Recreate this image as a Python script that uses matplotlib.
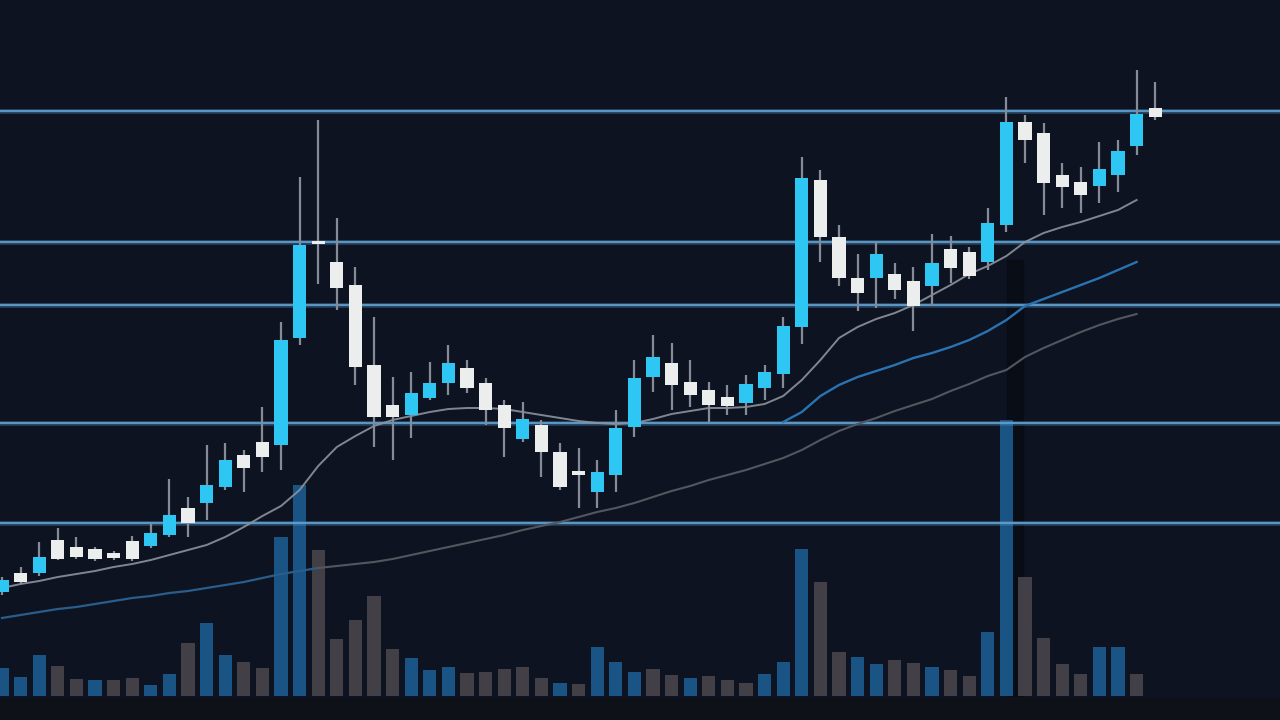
import numpy as np
import matplotlib
matplotlib.use("Agg")
import matplotlib.pyplot as plt

# ---- data (price units) ----
opens = [128,147,147,180,173,171,167,179,174,185,212,217,233,265,278,275,382,479,458,435,
         355,315,305,322,337,352,337,315,281,295,268,249,228,245,293,343,357,338,330,323,
         317,332,346,393,540,483,442,442,446,439,434,471,468,458,495,598,587,545,538,534,
         545,574,612]
highs = [143,153,178,192,183,173,169,184,196,241,223,275,277,270,313,398,543,600,502,453,
         403,343,348,358,375,360,342,320,318,300,277,272,260,310,360,385,377,360,338,335,
         345,355,403,563,550,495,466,478,457,453,486,484,473,512,623,605,597,557,553,578,
         580,650,638]
lows = [125,136,144,160,161,159,160,159,172,183,183,200,230,228,248,250,375,436,410,335,
        273,260,282,320,325,327,295,263,278,243,230,212,212,228,283,328,310,313,298,305,
        305,320,332,376,458,434,409,412,421,389,414,437,441,450,488,557,505,512,507,517,
        528,565,600]
closes = [140,138,163,161,163,161,162,161,187,205,197,235,260,252,263,380,475,476,432,353,
          303,303,327,337,357,332,310,292,301,268,233,245,248,292,342,363,335,325,315,314,
          336,348,394,542,483,442,427,466,430,414,457,452,444,497,598,580,537,533,525,551,
          569,606,603]
volumes = [28,19,41,30,17,16,16,18,11,22,53,73,41,34,28,159,211,146,57,76,
           100,47,38,26,29,23,24,27,29,18,13,12,49,34,24,27,21,18,20,16,
           13,22,34,147,114,44,39,32,36,33,29,26,20,64,276,119,58,32,22,49,
           49,22,np.nan]
volume_up = [1,1,1,0,0,1,0,0,1,1,0,1,1,0,0,1,1,0,0,0,
             0,0,1,1,1,0,0,0,0,0,1,0,1,1,1,0,0,1,0,0,
             0,1,1,1,0,0,1,1,0,0,1,0,0,1,1,0,0,0,0,1,
             1,0,0]
ma_fast = [132,136,139,143,146,149,153,156,160,165,170,175,183,193,204,214,230,254,273,284,
           294,300,304,308,311,312,312,311,308,305,302,299,297,296,297,301,306,309,312,312,
           313,316,324,340,360,382,393,401,407,415,425,435,446,454,464,478,487,493,498,504,
           510,520]
ma_mid = [298,308,324,335,343,349,355,362,367,373,380,389,400,414,421,428,435,442,450,458]
ma_mid_start = 42
ma_slow = [102,105,108,111,113,116,119,122,124,127,129,132,135,138,142,146,149,152,154,156,
           158,161,165,169,173,177,181,185,190,194,198,203,208,212,217,223,229,234,240,245,
           250,256,262,270,280,289,296,302,309,315,321,329,336,344,350,363,372,380,388,395,
           401,406]
levels = [609, 478, 415, 297, 197]

# ---- style ----
BG = "#0d1320"
UP = "#2ec6f3"
DOWN = "#eceeee"
WICK = "#858c98"
VOL_UP = "#1b5a8d"
VOL_DN = "#47434a"
LEVEL = "#4d8fc0"

n = len(opens)
x = np.arange(n)
o = np.array(opens, float); c = np.array(closes, float)
h = np.array(highs, float); l = np.array(lows, float)
up = c >= o

fig = plt.figure(figsize=(12.8, 7.2), dpi=100, facecolor=BG)
ax = fig.add_axes([0, 0, 1, 1])
ax.set_facecolor(BG)
xmin = -2 / 18.6
ax.set_xlim(xmin, xmin + 1280 / 18.6)
ax.set_ylim(0, 720)
ax.axis("off")

# volume on twin axis (drawn below the price layer)
axv = ax.twinx()
axv.set_ylim(-24, 696)
axv.axis("off")
axv.axhspan(-24, -2, color="#0f1119", zorder=0.2)
axv.axvspan(54.05, 54.9, ymin=24 / 720, ymax=460 / 720, color="#070a10", alpha=0.6, zorder=0.3)
vcol = [VOL_UP if u else VOL_DN for u in volume_up]
axv.bar(x, volumes, width=0.72, color=vcol, alpha=0.92, zorder=1)

# horizontal levels (on top of volume)
for lv in levels:
    ax.axhline(lv, color=LEVEL, lw=3.4, alpha=0.35, zorder=3)
    ax.axhline(lv, color="#5d9ccb", lw=1.6, alpha=0.95, zorder=3.1)

# moving averages
ax.plot(np.arange(len(ma_fast)), ma_fast, color="#8e939d", lw=1.4, alpha=0.9, zorder=4)
ax.plot(np.arange(ma_mid_start, ma_mid_start + len(ma_mid)), ma_mid, color="#2a73b2", lw=1.7, zorder=4)
ax.plot(np.arange(0, 18), ma_slow[:18], color="#2a5d8c", lw=1.6, zorder=4)
ax.plot(np.arange(17, len(ma_slow)), ma_slow[17:], color="#52565f", lw=1.5, zorder=4)

# candles
ax.vlines(x, l, h, color=WICK, lw=1.6, zorder=5)
body_bottom = np.minimum(o, c)
body_h = np.maximum(np.abs(c - o), 3)
ax.bar(x[up], body_h[up], bottom=body_bottom[up], width=0.7, color=UP, zorder=6)
ax.bar(x[~up], body_h[~up], bottom=body_bottom[~up], width=0.7, color=DOWN, zorder=6)

axv.set_zorder(0)
ax.set_zorder(1)
ax.patch.set_visible(False)
fig.savefig("out.png", dpi=100, facecolor=BG)
